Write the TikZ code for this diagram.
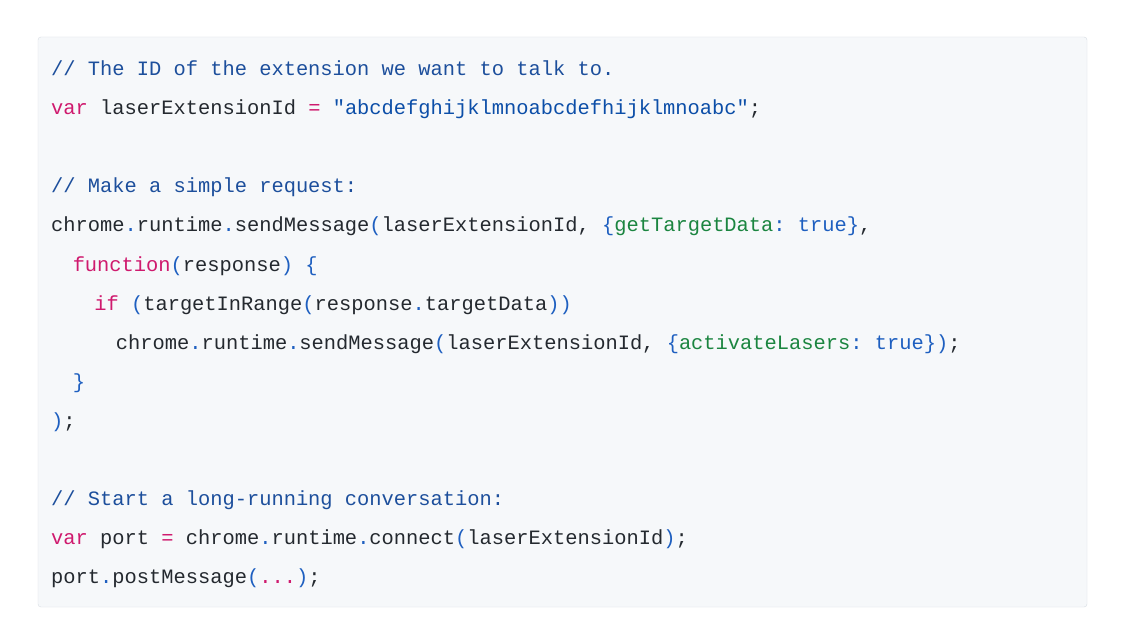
\documentclass[tikz,border=0pt]{standalone}
\usepackage{fontspec}
\setmonofont{Liberation Mono}
\definecolor{cmc}{HTML}{1D4F9C}
\definecolor{kwc}{HTML}{CF1A6E}
\definecolor{stc}{HTML}{0C4EA8}
\definecolor{grc}{HTML}{1B8540}
\definecolor{blc}{HTML}{1E5FC0}
\definecolor{txc}{HTML}{24292F}
\newcommand{\CM}[1]{\textcolor{cmc}{#1}}
\newcommand{\KW}[1]{\textcolor{kwc}{#1}}
\newcommand{\ST}[1]{\textcolor{stc}{#1}}
\newcommand{\GR}[1]{\textcolor{grc}{#1}}
\newcommand{\BL}[1]{\textcolor{blc}{#1}}
\begin{document}
\begin{tikzpicture}[x=1pt,y=-1pt,
  ln/.style={anchor=base west,inner sep=0pt,font=\ttfamily\fontsize{20.4}{24}\selectfont,text=txc}]
\useasboundingbox (0,0) rectangle (1123,644);
\fill[white] (0,0) rectangle (1123,644);
\draw[fill={rgb,255:red,246;green,248;blue,250},draw={rgb,255:red,216;green,222;blue,228},rounded corners=3pt] (38,37) rectangle (1087,607);
\node[ln] (l1) at (51,76) {\CM{// The ID of the extension we want to talk to.}};
\node[ln] (l2) at (51,115) {\KW{var} laserExtensionId \KW{=} \ST{"abcdefghijklmnoabcdefhijklmnoabc"};};
\node[ln] (l3) at (51,193) {\CM{// Make a simple request:}};
\node[ln] (l4) at (51,232) {chrome\BL{.}runtime\BL{.}sendMessage\BL{(}laserExtensionId, \BL{\{}\GR{getTargetData}\BL{:} \BL{true}\BL{\}},};
\node[ln] (l5) at (51,271) {\hspace*{2ex}\KW{function}\BL{(}response\BL{)} \BL{\{}};
\node[ln] (l6) at (51,310) {\hspace*{4ex}\KW{if} \BL{(}targetInRange\BL{(}response\BL{.}targetData\BL{))}};
\node[ln] (l7) at (51,349) {\hspace*{6ex}chrome\BL{.}runtime\BL{.}sendMessage\BL{(}laserExtensionId, \BL{\{}\GR{activateLasers}\BL{:} \BL{true}\BL{\})};};
\node[ln] (l8) at (51,388) {\hspace*{2ex}\BL{\}}};
\node[ln] (l9) at (51,427) {\BL{)};};
\node[ln] (l10) at (51,505) {\CM{// Start a long-running conversation:}};
\node[ln] (l11) at (51,544) {\KW{var} port \KW{=} chrome\BL{.}runtime\BL{.}connect\BL{(}laserExtensionId\BL{)};};
\node[ln] (l12) at (51,583) {port\BL{.}postMessage\BL{(}\KW{...}\BL{)};};
\end{tikzpicture}
\end{document}
